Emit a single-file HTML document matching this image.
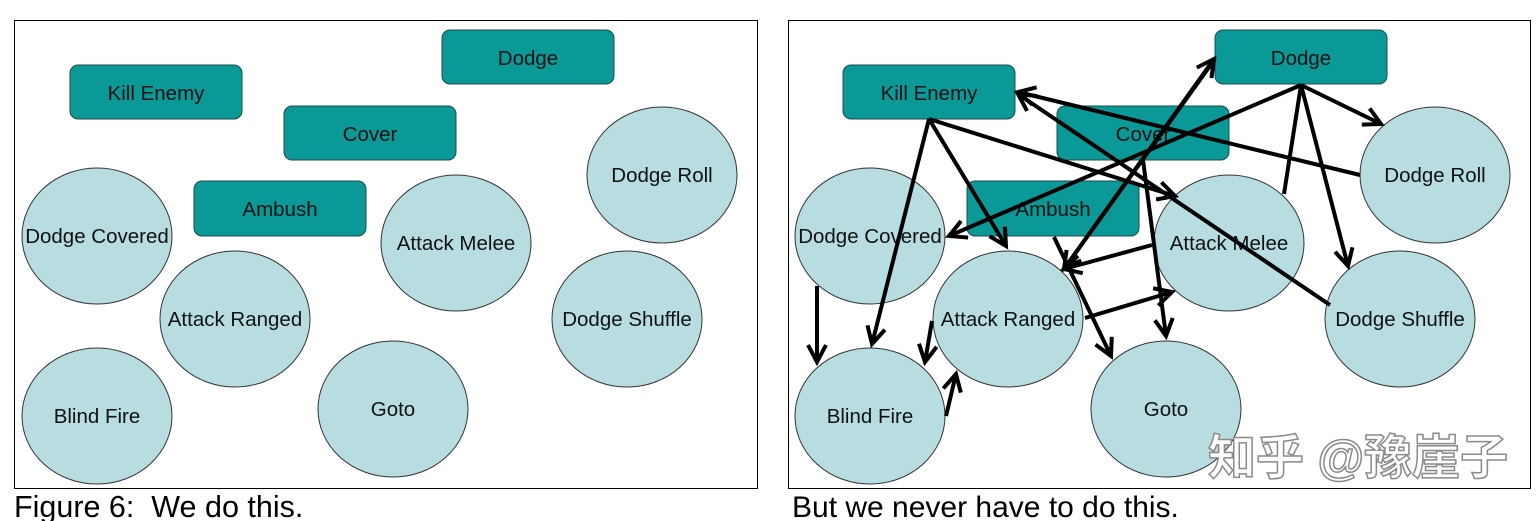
<!DOCTYPE html>
<html><head><meta charset="utf-8"><style>
html,body{margin:0;padding:0;background:#fff;}
svg{display:block;}
text{font-family:"Liberation Sans",sans-serif;}
</style></head><body>
<svg width="1537" height="521" viewBox="0 0 1537 521" xmlns="http://www.w3.org/2000/svg">
<defs>
<marker id="ah" markerWidth="10" markerHeight="10" refX="9" refY="5" orient="auto" markerUnits="userSpaceOnUse" viewBox="0 0 10 10" overflow="visible">
<path d="M-8,-4 L9,5 L-8,14" fill="none" stroke="#000" stroke-width="4"/>
</marker>
<g id="diag">
<rect x="442" y="30" width="172" height="54" rx="8" fill="#0a9996" stroke="#1c4c4c" stroke-width="1"/>
<text x="528" y="65" font-size="20.5" text-anchor="middle" fill="#111">Dodge</text>
<rect x="70" y="65" width="172" height="54" rx="8" fill="#0a9996" stroke="#1c4c4c" stroke-width="1"/>
<text x="156" y="100" font-size="20.5" text-anchor="middle" fill="#111">Kill Enemy</text>
<rect x="284" y="106" width="172" height="54" rx="8" fill="#0a9996" stroke="#1c4c4c" stroke-width="1"/>
<text x="370" y="141" font-size="20.5" text-anchor="middle" fill="#111">Cover</text>
<rect x="194" y="181" width="172" height="55" rx="8" fill="#0a9996" stroke="#1c4c4c" stroke-width="1"/>
<text x="280" y="216" font-size="20.5" text-anchor="middle" fill="#111">Ambush</text>
<g fill="#b7dde1" stroke="#333" stroke-width="1">
<ellipse cx="97" cy="236" rx="75" ry="68"/>
<ellipse cx="235" cy="319" rx="75" ry="68"/>
<ellipse cx="456" cy="243" rx="75" ry="68"/>
<ellipse cx="662" cy="175" rx="75" ry="68"/>
<ellipse cx="627" cy="319" rx="75" ry="68"/>
<ellipse cx="97" cy="416" rx="75" ry="68"/>
<ellipse cx="393" cy="409" rx="75" ry="68"/>
</g>
<g font-size="20.5" text-anchor="middle" fill="#111">
<text x="97" y="243">Dodge Covered</text>
<text x="235" y="326">Attack Ranged</text>
<text x="456" y="250">Attack Melee</text>
<text x="662" y="182">Dodge Roll</text>
<text x="627" y="326">Dodge Shuffle</text>
<text x="97" y="423">Blind Fire</text>
<text x="393" y="416">Goto</text>
</g>
</g>
</defs>
<rect x="14.5" y="20.5" width="743" height="468" fill="#fff" stroke="#000" stroke-width="1"/>
<rect x="788.5" y="20.5" width="742" height="468" fill="#fff" stroke="#000" stroke-width="1"/>
<use href="#diag"/>
<g transform="translate(773,0)"><use href="#diag"/></g>
<g stroke="#000" stroke-width="4" fill="none" marker-end="url(#ah)">
<line x1="929" y1="119" x2="872" y2="344"/>
<line x1="929" y1="119" x2="1006" y2="246"/>
<line x1="929" y1="119" x2="1175" y2="196"/>
<line x1="1360" y1="175" x2="1018" y2="92"/>
<line x1="1330" y1="305" x2="1018" y2="94"/>
<line x1="1301" y1="85" x2="1381" y2="124"/>
<line x1="1301" y1="85" x2="1348" y2="266"/>
<line x1="1301" y1="85" x2="949" y2="236"/>
<line x1="1064" y1="269" x2="1214" y2="59"/>
<line x1="1215" y1="59" x2="1064" y2="269"/>
<line x1="1152" y1="245" x2="1064" y2="269"/>
<line x1="1085" y1="318" x2="1172" y2="292"/>
<line x1="1054" y1="237" x2="1111" y2="356"/>
<line x1="1143" y1="160" x2="1166" y2="336"/>
<line x1="817" y1="286" x2="817" y2="362"/>
<line x1="932" y1="321" x2="925" y2="362"/>
<line x1="946" y1="416" x2="956" y2="374"/>
</g>
<line x1="1301" y1="85" x2="1284" y2="194" stroke="#000" stroke-width="4"/>
<text x="14" y="517" font-size="30.5" fill="#000" xml:space="preserve" style="white-space:pre">Figure 6:  We do this.</text>
<text x="792" y="517" font-size="30" fill="#000">But we never have to do this.</text>
<text x="1208" y="474" font-size="48" font-weight="bold" fill="#fff" stroke="#8a8a8a" stroke-width="1.5" style="font-family:'Liberation Sans','Noto Sans CJK SC',sans-serif">知乎 @豫崖子</text>
</svg>
</body></html>
